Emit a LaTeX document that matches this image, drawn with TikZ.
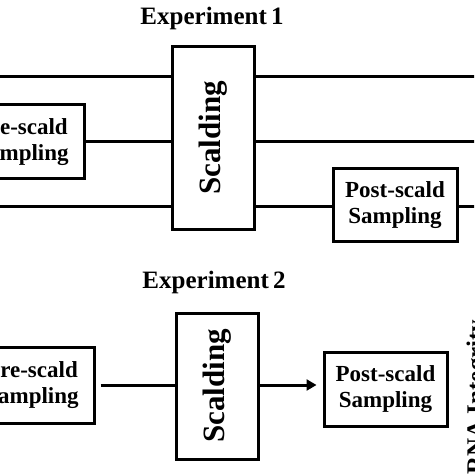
\documentclass[tikz,border=0pt]{standalone}
\usepackage{fontspec}
\setmainfont{Liberation Serif}
\usetikzlibrary{arrows.meta}
\tikzset{
  stage/.style={draw,line width=1.5pt,align=center,inner sep=0pt,font=\fontsize{11.5}{13}\selectfont\bfseries},
  scaldbox/.style={draw,line width=1.5pt,inner sep=0pt,font=\fontsize{15.5}{16}\selectfont\bfseries},
  title/.style={font=\fontsize{12.5}{14}\selectfont\bfseries},
  flow/.style={line width=1.5pt}
}
\begin{document}
\begin{tikzpicture}[x=0.5pt,y=-0.5pt,line cap=butt,line join=miter,>={Triangle[length=5pt,width=5.5pt]}]
  \useasboundingbox (0,0) rectangle (474,474);
  \clip (0,0) rectangle (474,474);
  % Experiment 1
  \node[title] (exp1) at (212,18) {Experiment\,1};
  \node[scaldbox,minimum width=41pt,minimum height=91.5pt] (scald1) at (213,138) {\rotatebox{90}{Scalding}};
  \node[stage,minimum width=62pt,minimum height=37pt] (pre1) at (22,142) {Pre-scald\\Sampling};
  \node[stage,minimum width=62pt,minimum height=36.5pt] (post1) at (395,205) {Post-scald\\Sampling};
  \coordinate (l1) at (-10,77);
  \coordinate (r1) at (484,77);
  \coordinate (r2) at (484,142);
  \coordinate (l3) at (-10,207);
  \coordinate (r3) at (484,207);
  \draw[flow] (l1) -- (l1 -| scald1.west);
  \draw[flow] (scald1.east |- l1) -- (r1);
  \draw[flow] (pre1.east) -- (pre1.east -| scald1.west);
  \draw[flow] (scald1.east |- r2) -- (r2);
  \draw[flow] (l3) -- (l3 -| scald1.west);
  \draw[flow] (scald1.east |- l3) -- (l3 -| post1.west);
  \draw[flow] (post1.east |- r3) -- (r3);
  % Experiment 2
  \node[title] (exp2) at (214,282) {Experiment\,2};
  \node[scaldbox,minimum width=41pt,minimum height=73pt] (scald2) at (217,386) {\rotatebox{90}{Scalding}};
  \node[stage,minimum width=62pt,minimum height=38pt] (pre2) at (32,385) {Pre-scald\\Sampling};
  \node[stage,minimum width=61.5pt,minimum height=37pt] (post2) at (385.5,389) {Post-scald\\Sampling};
  \draw[flow,shorten <=2.5pt] (pre2.east) -- (pre2.east -| scald2.west);
  \draw[flow,->,shorten >=3pt] (scald2.east |- pre2.east) -- (post2.west |- pre2.east);
  \node[title,rotate=90,anchor=north,inner sep=0pt] (rna) at (466,397) {RNA Integrity};
\end{tikzpicture}
\end{document}
